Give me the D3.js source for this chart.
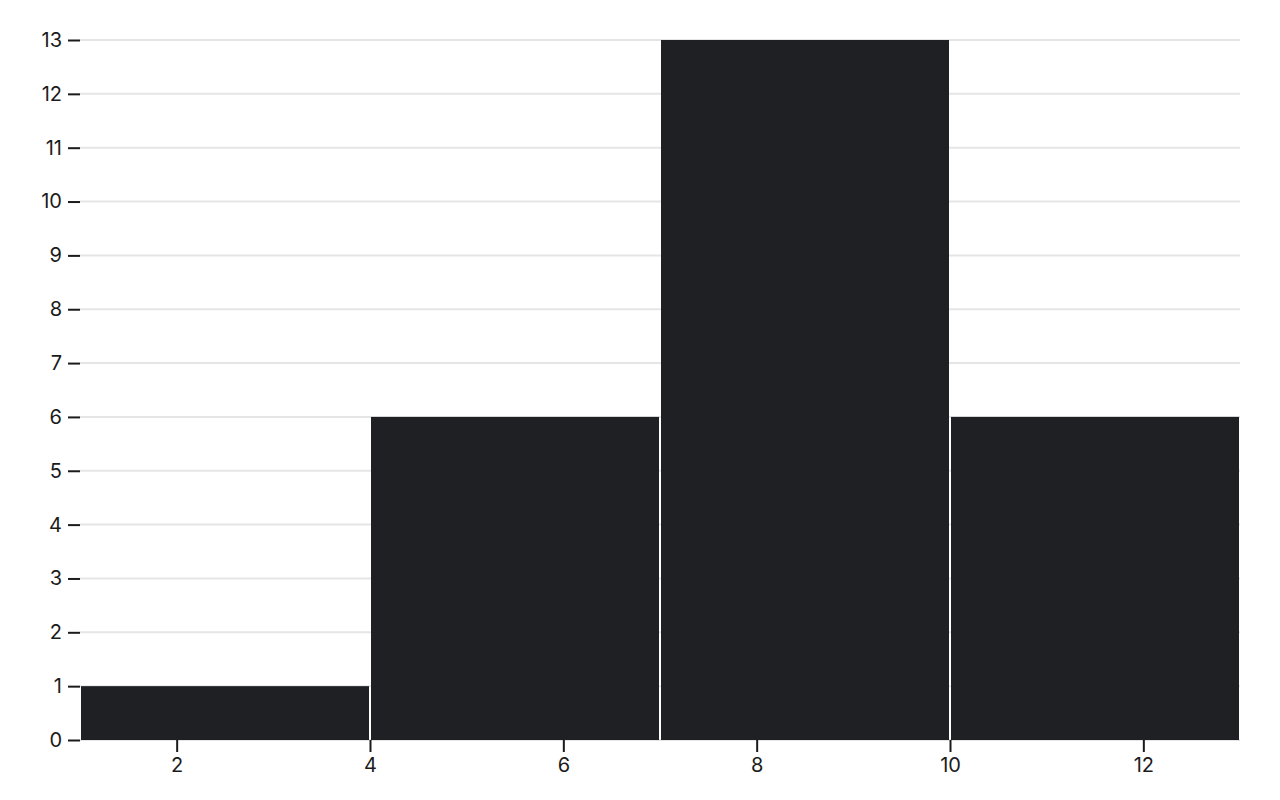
<!DOCTYPE html>
<html>
<head>
<meta charset="utf-8">
<script src="https://cdn.jsdelivr.net/npm/d3@7"></script>
<style>
  html, body { margin: 0; padding: 0; background: #fff; }
  svg { display: block; font-family: Inter, "Noto Sans", "DejaVu Sans", sans-serif; }
</style>
</head>
<body>
<svg id="chart" width="1280" height="800"></svg>
<script>
// Data
const binStarts = [1, 4, 7, 10];
const binEnds = [4, 7, 10, 13];
const counts = [1, 6, 13, 6];
const xTickValues = [2, 4, 6, 8, 10, 12];
const yTickValues = [0, 1, 2, 3, 4, 5, 6, 7, 8, 9, 10, 11, 12, 13];

const W = 1280, H = 800;
const margin = { top: 40, right: 40, bottom: 60, left: 80 };
const svg = d3.select("#chart");

const x = d3.scaleLinear().domain([1, 13]).range([margin.left, W - margin.right]);
const y = d3.scaleLinear().domain([0, 13]).range([H - margin.bottom, margin.top]);

const textColor = "#1b1b1b";

// grid
svg.append("g")
  .selectAll("line")
  .data(yTickValues)
  .join("line")
  .attr("x1", margin.left)
  .attr("x2", W - margin.right)
  .attr("y1", d => y(d))
  .attr("y2", d => y(d))
  .attr("stroke", "#000")
  .attr("stroke-opacity", 0.1)
  .attr("stroke-width", 2);

// y axis
const yAxis = svg.append("g")
  .attr("transform", `translate(${margin.left},0)`)
  .call(d3.axisLeft(y).tickValues(yTickValues).tickSize(12).tickPadding(6).tickFormat(d3.format("d")))
  .attr("font-family", null)
  .attr("font-size", 20);
yAxis.select(".domain").remove();
yAxis.selectAll(".tick line").attr("stroke", textColor).attr("stroke-width", 2);
yAxis.selectAll(".tick text").attr("fill", textColor);

// bars
const bins = binStarts.map((s, i) => ({ x0: s, x1: binEnds[i], n: counts[i] }));
svg.append("g")
  .selectAll("rect")
  .data(bins)
  .join("rect")
  .attr("x", d => x(d.x0) + 1)
  .attr("width", d => x(d.x1) - x(d.x0) - 2)
  .attr("y", d => y(d.n))
  .attr("height", d => y(0) - y(d.n))
  .attr("fill", "#1e2024");

// x axis
const xAxis = svg.append("g")
  .attr("transform", `translate(0,${H - margin.bottom})`)
  .call(d3.axisBottom(x).tickValues(xTickValues).tickSize(12).tickPadding(6).tickFormat(d3.format("d")))
  .attr("font-family", null)
  .attr("font-size", 20);
xAxis.select(".domain").remove();
xAxis.selectAll(".tick line").attr("stroke", textColor).attr("stroke-width", 2);
xAxis.selectAll(".tick text").attr("fill", textColor);
</script>
</body>
</html>
